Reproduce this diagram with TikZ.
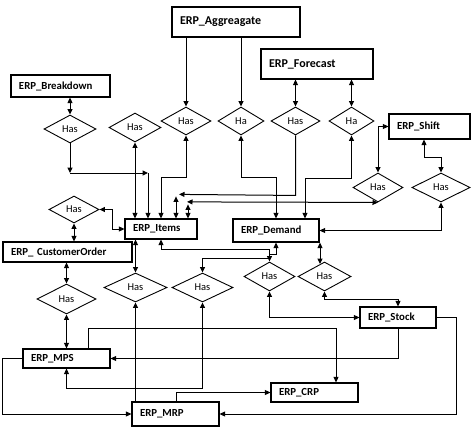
\documentclass[tikz,border=0pt]{standalone}
\usepackage{fontspec}
\setmainfont{Carlito}
\usetikzlibrary{arrows.meta,shapes.geometric}
\begin{document}
\begin{tikzpicture}[x=1pt,y=-1pt,
  ebox/.style={draw, line width=1.2pt, inner xsep=8pt, inner ysep=0pt, align=left, font=\bfseries\fontsize{10.8}{12}\selectfont},
  bigbox/.style={ebox, font=\bfseries\fontsize{12}{14}\selectfont},
  rel/.style={draw, diamond, line width=0.9pt, inner sep=0pt, font=\fontsize{10.5}{12}\selectfont},
  link/.style={line width=1pt},
  >={Triangle[length=5.5pt,width=5pt]}]
\useasboundingbox (0,0) rectangle (474,436);

% entity boxes
\node[bigbox, text width=112pt, minimum height=30pt] (agg) at (236,22) {ERP\_Aggreagate};
\node[bigbox, text width=96pt, minimum height=30pt] (fc) at (317,64) {ERP\_Forecast};
\node[ebox, text width=83pt, minimum height=22pt] (bd) at (60.5,86) {ERP\_Breakdown};
\node[ebox, text width=65pt, minimum height=25pt] (shift) at (429.5,126.5) {ERP\_Shift};
\node[ebox, text width=56pt, minimum height=20pt] (items) at (161,229) {ERP\_Items};
\node[ebox, text width=70pt, minimum height=23pt] (demand) at (276,230.5) {ERP\_Demand};
\node[ebox, text width=113pt, minimum height=20pt] (co) at (67.5,252) {ERP\_ CustomerOrder};
\node[ebox, text width=60pt, minimum height=21pt] (stock) at (398,317.5) {ERP\_Stock};
\node[ebox, text width=71pt, minimum height=19pt] (mps) at (66.5,358.5) {ERP\_MPS};
\node[ebox, text width=71pt, minimum height=24pt] (mrp) at (175.5,414) {ERP\_MRP};
\node[ebox, text width=71pt, minimum height=19pt] (crp) at (314.5,392.5) {ERP\_CRP};

% relationship diamonds
\node[rel, minimum width=52pt, minimum height=28pt] (d1) at (70,129) {Has};
\node[rel, minimum width=52pt, minimum height=29pt] (d2) at (135,127.5) {Has};
\node[rel, minimum width=50pt, minimum height=28pt] (d3) at (186,121) {Has};
\node[rel, minimum width=46pt, minimum height=28pt] (d4) at (241,121) {Ha};
\node[rel, minimum width=49pt, minimum height=28pt] (d5) at (295.5,121) {Has};
\node[rel, minimum width=45pt, minimum height=28pt] (d6) at (351.5,121) {Ha};
\node[rel, minimum width=50pt, minimum height=29pt] (d7) at (378,187.5) {Has};
\node[rel, minimum width=58pt, minimum height=29pt] (d8) at (441,187.5) {Has};
\node[rel, minimum width=50pt, minimum height=27pt] (d9) at (74,209.5) {Has};
\node[rel, minimum width=59pt, minimum height=30pt] (d10) at (66.5,299) {Has};
\node[rel, minimum width=63pt, minimum height=29pt] (d11) at (135.5,287.5) {Has};
\node[rel, minimum width=61pt, minimum height=29pt] (d12) at (202.5,287.5) {Has};
\node[rel, minimum width=51pt, minimum height=29pt] (d13) at (269.5,276.5) {Has};
\node[rel, minimum width=53pt, minimum height=29pt] (d14) at (324.5,276.5) {Has};

% helper coordinates
\coordinate (b1) at (70,173);
\coordinate (b2) at (148,173);
\coordinate (j1) at (269.5,254);
\coordinate (j2) at (269.5,258);

% top connectors
\draw[link,->] (d3.north |- agg.south) -- (d3.north);
\draw[link,->] (d4.north |- agg.south) -- (d4.north);
\draw[link,<->] (d5.north |- fc.south) -- (d5.north);
\draw[link,<->] (d6.north |- fc.south) -- (d6.north);
\draw[link,<->] (d1.north |- bd.south) -- (d1.north);

% breakdown chain
\draw[link,->] (d1.south) -- (b1);
\draw[link,->] (b1) -- (b2);
\draw[link,->] (b2) -- (b2 |- items.north);

\draw[link,<->] (d2.south) -- (d2.south |- items.north);
\draw[link,<->] (d3.south) -- ++(0,42) -| (items.north);
\draw[link,<->] (d4.south) -- ++(0,42) -| (demand.north);
\draw[link,<->] (d6.south) -- ++(0,43) -| ([xshift=29pt]demand.north);

% forecast Has -> items
\draw[link,->] (d5.south) -- ++(0,60) -- ([xshift=18pt,yshift=24pt]items.north);
\draw[link,<->] ([xshift=15pt,yshift=22pt]items.north) -- ([xshift=15pt]items.north);
% shift Has -> items
\draw[link,<->] ([xshift=26pt,yshift=16.5pt]items.north) -- (d7.south);
\draw[link,<->] ([xshift=27pt,yshift=14pt]items.north) -- ([xshift=27pt]items.north);

% shift
\draw[link,<->] (d7.north) |- (shift.west);
\draw[link,<->] ([xshift=-5.5pt]shift.south) -- ++(0,18) -| (d8.north);
\draw[link,<->] (d8.south) |- (demand.east);

% customer order side
\draw[link,<->] (d9.east) -- ++(13,0) |- (items.west);
\draw[link,<->] (d9.south) -- (d9.south |- co.north);
\draw[link,<->] (d10.north |- co.south) -- (d10.north);
\draw[link,<->] (d10.south) -- (d10.south |- mps.north);

% items bottom
\draw[link,<->] (d11.north |- items.south) -- (d11.north);
\draw[link,->] (d11.south |- mrp.north) -- (d11.south);
\draw[link,<->] (d12.south) -- ++(0,86) -| (mps.south);

% convergence at d13
\draw[link,<->] (items.south) -- ++(0,10) -| (d13.north);
\draw[link,->] (j1) -| (demand.south);
\draw[link,->] (j2) -| (d12.north);

% demand / stock
\draw[link,<->] (d13.south) |- (stock.west);
\draw[link,<->] ([xshift=-4.5pt]d14.north |- demand.south) -- ([xshift=-4.5pt,yshift=-2.5pt]d14.north);
\draw[link,<->] (d14.south) -- ++(0,8) -| (stock.north);
\draw[link,->] (stock.south) |- (mps.east);
\draw[link,->] (stock.east) -- ++(20,0) |- (mrp.east);

% bottom
\draw[link,->] ([xshift=21.5pt]mps.north) -- ++(0,-20) -| ([xshift=21.5pt]crp.north);
\draw[link,->] (mps.west) -- ++(-20,0) |- (mrp.west);
\draw[link,->] ([xshift=0.5pt]mrp.north) |- (crp.west);
\end{tikzpicture}
\end{document}
